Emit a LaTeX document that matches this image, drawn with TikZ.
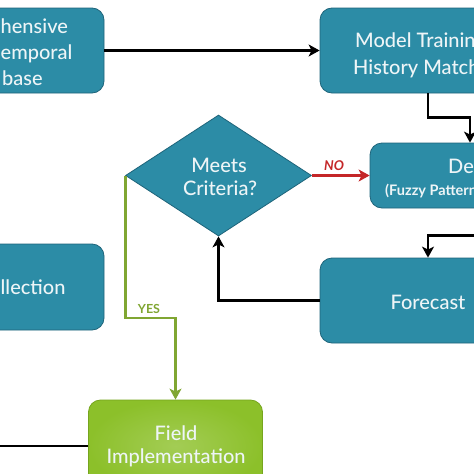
\documentclass[tikz,border=0pt]{standalone}
\usepackage{fontspec}
\setmainfont{Lato}[UprightFont={* Medium}, BoldFont={* Bold}, BoldItalicFont={* Bold Italic}]
\usetikzlibrary{shapes.geometric,arrows.meta,calc}
\definecolor{tealF}{RGB}{44,140,166}
\definecolor{tealB}{RGB}{30,100,122}
\definecolor{grnF}{RGB}{140,192,42}
\definecolor{grnB}{RGB}{118,165,30}
\definecolor{grnL}{RGB}{128,166,50}
\definecolor{redA}{RGB}{196,38,40}
\definecolor{txtW}{RGB}{238,245,247}
\tikzset{
  box/.style={draw=tealB, line width=0.8pt, fill=tealF, rounded corners=12pt, inner sep=0pt},
  gbox/.style={draw=grnB, line width=0.8pt, inner color=grnF!80!white, outer color=grnF, rounded corners=12pt, inner sep=0pt},
  lbl/.style={text=txtW, font=\fontsize{20}{26}\selectfont, inner sep=0pt},
  sublbl/.style={text=txtW, font=\fontsize{14.5}{16}\selectfont\bfseries, inner sep=0pt},
  conn/.style={line width=2.8pt, black, -{Stealth[length=11pt,width=12pt,inset=3pt]}},
  plain/.style={line width=2.8pt, black},
}
\begin{document}
\begin{tikzpicture}[x=1pt,y=-1pt]
\useasboundingbox (0,0) rectangle (474,474);
\fill[white] (0,0) rectangle (474,474);
\clip (0,0) rectangle (474,474);

% boxes
\node[box, minimum width=204pt, minimum height=85pt] (db) at (2,50.5) {};
\node[box, minimum width=216pt, minimum height=85pt] (mt) at (428,50.5) {};
\node[box, minimum width=200pt, minimum height=65pt] (dec) at (470,175.5) {};
\node[box, minimum width=204pt, minimum height=86pt] (dc) at (2,287) {};
\node[box, minimum width=216pt, minimum height=85pt] (fc) at (428,300.5) {};
\node[gbox, minimum width=174pt, minimum height=92pt] (fi) at (175.5,446) {};
\node[diamond, draw=tealB, line width=0.8pt, fill=tealF, inner sep=0pt,
      minimum width=186pt, minimum height=121pt] (dia) at (218.5,175.5) {};

% texts
\node[lbl, anchor=base west] (dbt1) at (0.5,33) {hensive};
\node[lbl, anchor=base west] (dbt2) at (0.5,59) {emporal};
\node[lbl, anchor=base west] (dbt3) at (2,85) {base};
\node[lbl, anchor=base west] (mtt1) at (355,47) {Model Training};
\node[lbl, anchor=base west] (mtt2) at (353,74) {History Matching};
\node[lbl, anchor=base west] (dect1) at (448,173) {Decision};
\node[sublbl, anchor=base west] (dect2) at (385,195) {(Fuzzy Pattern Recognition)};
\node[lbl, anchor=base] (diat1) at (219,172) {Meets};
\node[lbl, anchor=base] (diat2) at (220,195) {Criteria?};
\node[lbl, anchor=base west] (dct) at (0.5,294) {llection};
\node[lbl, anchor=base] (fct) at (428,309) {Forecast};
\node[lbl, anchor=base] (fit1) at (176,440) {Field};
\node[lbl, anchor=base] (fit2) at (176,463) {Implementation};

% connectors
\coordinate (decout) at (500,0);
\coordinate (leftend) at (-10,0);
\draw[conn] (db.east) -- (mt.west);
\draw[conn] (mt.south) -- ++(0,24) -| (dec.north);
\draw[conn] (dec.south -| decout) -- ++(0,27) -| (fc.north);
\draw[conn] (fc.west) -| (dia.south);
\draw[line width=2.8pt, redA, -{Stealth[length=11pt,width=12pt,inset=3pt]}] (dia.east) -- (dec.west);
\node[text=redA, font=\fontsize{13.5}{15}\selectfont\bfseries\itshape, inner sep=0pt] (nolbl) at (334,166) {NO};
\draw[line width=2.8pt, grnL, -{Stealth[length=11pt,width=12pt,inset=3pt]}] (dia.west) -- ++(0,142.5) -| (fi.north);
\node[text=grnL, font=\fontsize{12.5}{14}\selectfont\bfseries, inner sep=0pt] (yeslbl) at (149,309) {YES};
\draw[plain] (fi.west) -- (fi.west -| leftend);
\end{tikzpicture}
\end{document}
